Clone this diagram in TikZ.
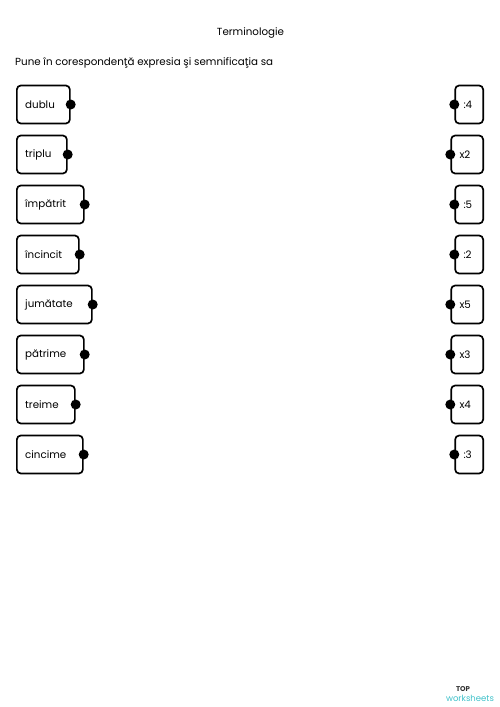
\documentclass[tikz,border=0pt]{standalone}
\usepackage{fontspec}
\setmainfont{Poppins}
\definecolor{tw}{HTML}{3FC1C9}
\definecolor{tg}{HTML}{333333}
\begin{document}
\begin{tikzpicture}[x=1pt,y=-1pt,
  box/.style={draw, line width=1.7pt, rounded corners=4pt, minimum height=38pt, inner sep=0pt},
  lab/.style={anchor=west, inner sep=0pt, font=\fontsize{10.3}{12}\selectfont},
  dot/.style={circle, fill=black, inner sep=0pt, minimum size=10pt}]
\useasboundingbox (0,0) rectangle (500,707);
\node[font=\fontsize{10.3}{12}\selectfont] (title) at (250.5,33) {Terminologie};
\node[anchor=west, inner sep=0pt, font=\fontsize{10.3}{12}\selectfont] (instr) at (15,63) {Pune în corespondenţă expresia şi semnificaţia sa};
% left column
\foreach \i/\r/\t in {1/69/dublu, 2/66/triplu, 3/83/împătrit, 4/78/încincit, 5/91/jumătate, 6/83/pătrime, 7/74/treime, 8/82/cincime}{
  \pgfmathsetmacro{\yc}{104.5+50*(\i-1)}
  \pgfmathsetmacro{\w}{\r-16}
  \node[box, minimum width=\w pt, anchor=west] (L\i) at (16,\yc) {};
  \node[lab] (LT\i) at ([xshift=9pt]L\i.west) {\t};
  \node[dot] (LD\i) at (L\i.east) {};
}
% right column
\foreach \i/\l/\t in {1/456/:4, 2/452/x2, 3/456/:5, 4/456/:2, 5/452/x5, 6/452/x3, 7/452/x4, 8/456/:3}{
  \pgfmathsetmacro{\yc}{104.5+50*(\i-1)}
  \pgfmathsetmacro{\w}{484-\l}
  \node[box, minimum width=\w pt, anchor=east] (R\i) at (484,\yc) {};
  \node[lab] (RT\i) at ([xshift=9pt]R\i.west) {\t};
  \node[dot] (RD\i) at (R\i.west) {};
}
\node[font=\fontsize{7}{8}\selectfont\bfseries, text=tg, inner sep=0pt] (top) at (463,689.5) {TOP};
\node[font=\fontsize{8.5}{9}\selectfont, text=tw, inner sep=0pt] (ws) at (470,698.5) {worksheets};
\end{tikzpicture}
\end{document}
